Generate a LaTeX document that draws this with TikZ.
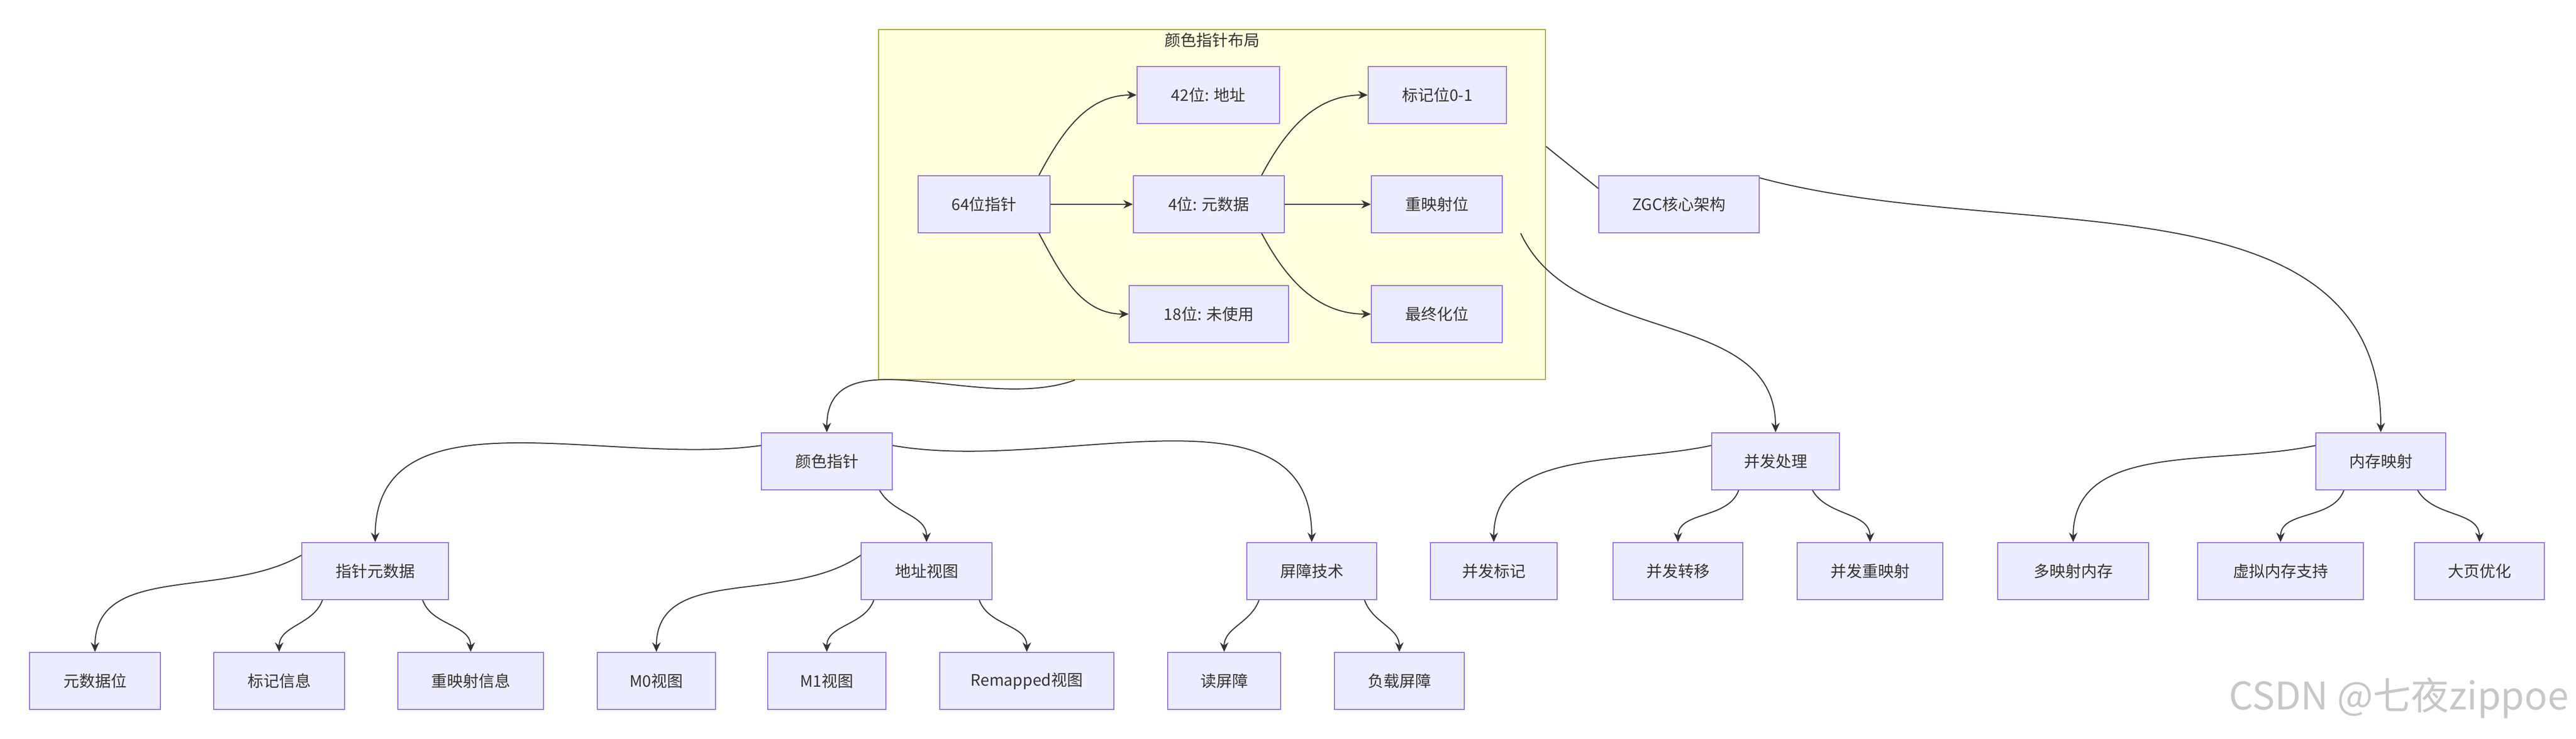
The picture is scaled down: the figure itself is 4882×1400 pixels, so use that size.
\documentclass[tikz,border=0pt]{standalone}
\usepackage{fontspec}
\setmainfont{Noto Sans CJK SC}
\usetikzlibrary{arrows.meta}
\definecolor{boxfill}{HTML}{ECECFF}
\definecolor{boxline}{HTML}{9370DB}
\definecolor{clfill}{HTML}{FFFFDE}
\definecolor{clline}{HTML}{AAAA33}
\definecolor{edge}{HTML}{333333}
\tikzset{
  box/.style={draw=boxline, fill=boxfill, line width=1pt, minimum height=54pt,
    font=\fontsize{15}{18}\selectfont, text=edge, inner sep=0pt},
  link/.style={draw=edge, line width=1pt, -{Stealth[length=9pt,width=8pt]}},
  plain/.style={draw=edge, line width=1pt}
}
\begin{document}
\begin{tikzpicture}[x=0.5pt, y=-0.5pt]
  \useasboundingbox (0,0) rectangle (4882,1400);

  % cluster
  \node [draw=clline, fill=clfill, line width=1pt, minimum width=632pt, minimum height=331.5pt, inner sep=0pt]
    (cl) at (2297,387.5) {};
  \node [font=\fontsize{15}{18}\selectfont, text=edge] (cltitle) at (2297,76) {颜色指针布局};

  \node [box, minimum width=125pt] (p64) at (1865,387) {64位指针};
  \node [box, minimum width=135pt] (b42) at (2290,180) {42位: 地址};
  \node [box, minimum width=143pt] (b4)  at (2291,387) {4位: 元数据};
  \node [box, minimum width=151pt] (b18) at (2291,595) {18位: 未使用};
  \node [box, minimum width=131pt] (mk)  at (2724,180) {标记位0-1};
  \node [box, minimum width=124pt] (rm)  at (2723,387) {重映射位};
  \node [box, minimum width=124pt] (fn)  at (2723,595) {最终化位};

  \draw [link] ([xshift=52]p64.north) to[out=62,in=180] (b42.west);
  \draw [link] (p64.east) -- (b4.west);
  \draw [link] ([xshift=52]p64.south) to[out=-62,in=180] (b18.west);
  \draw [link] ([xshift=50]b4.north) to[out=62,in=180] (mk.west);
  \draw [link] (b4.east) -- (rm.west);
  \draw [link] ([xshift=50]b4.south) to[out=-62,in=180] (fn.west);

  % top level
  \node [box, minimum width=152pt] (zgc) at (3182,387) {ZGC核心架构};
  \node [box, minimum width=124pt] (color) at (1567,874) {颜色指针};
  \node [box, minimum width=121pt] (conc) at (3365,874) {并发处理};
  \node [box, minimum width=123pt] (mem) at (4512,874) {内存映射};

  \draw [plain] ([yshift=15]zgc.west) -- ([yshift=55]cl.east);
  \draw [link] ([xshift=-130]cl.south) to[out=-160,in=90] (color.north);
  \draw [link] ([xshift=-150]zgc.south) to[out=-65,in=90] (conc.north);
  \draw [link] ([yshift=25]zgc.east) to[out=-15,in=90] (mem.north);

  % second level
  \node [box, minimum width=139pt] (meta) at (711,1082) {指针元数据};
  \node [box, minimum width=124pt] (addr) at (1756,1082) {地址视图};
  \node [box, minimum width=123pt] (barr) at (2486,1082) {屏障技术};
  \node [box, minimum width=120pt] (cmark) at (2831,1082) {并发标记};
  \node [box, minimum width=123pt] (cmove) at (3180,1082) {并发转移};
  \node [box, minimum width=138pt] (cremap) at (3544,1082) {并发重映射};
  \node [box, minimum width=143pt] (multi) at (3929,1082) {多映射内存};
  \node [box, minimum width=157pt] (virt) at (4322,1082) {虚拟内存支持};
  \node [box, minimum width=123pt] (huge) at (4699,1082) {大页优化};

  \draw [link] ([yshift=15]color.west) to[out=-172,in=90] (meta.north);
  \draw [link] ([xshift=50]color.south) to[out=-60,in=90] (addr.north);
  \draw [link] ([yshift=15]color.east) to[out=-10,in=90] (barr.north);
  \draw [link] ([yshift=15]conc.west) to[out=-168,in=90] (cmark.north);
  \draw [link] ([xshift=-35]conc.south) to[out=-110,in=90] (cmove.north);
  \draw [link] ([xshift=35]conc.south) to[out=-60,in=90] (cremap.north);
  \draw [link] ([yshift=15]mem.west) to[out=-168,in=90] (multi.north);
  \draw [link] ([xshift=-35]mem.south) to[out=-110,in=90] (virt.north);
  \draw [link] ([xshift=35]mem.south) to[out=-60,in=90] (huge.north);

  % leaves
  \node [box, minimum width=124pt] (l1) at (180,1290) {元数据位};
  \node [box, minimum width=124pt] (l2) at (529,1290) {标记信息};
  \node [box, minimum width=138pt] (l3) at (892,1290) {重映射信息};
  \node [box, minimum width=112pt] (l4) at (1244,1290) {M0视图};
  \node [box, minimum width=112pt] (l5) at (1567,1290) {M1视图};
  \node [box, minimum width=165pt] (l6) at (1946,1290) {Remapped视图};
  \node [box, minimum width=107pt] (l7) at (2320,1290) {读屏障};
  \node [box, minimum width=123pt] (l8) at (2652,1290) {负载屏障};

  \draw [link] ([yshift=15]meta.west) to[out=-150,in=90] (l1.north);
  \draw [link] ([xshift=-50]meta.south) to[out=-110,in=90] (l2.north);
  \draw [link] ([xshift=45]meta.south) to[out=-70,in=90] (l3.north);
  \draw [link] ([yshift=15]addr.west) to[out=-145,in=90] (l4.north);
  \draw [link] ([xshift=-50]addr.south) to[out=-110,in=90] (l5.north);
  \draw [link] ([xshift=50]addr.south) to[out=-70,in=90] (l6.north);
  \draw [link] ([xshift=-50]barr.south) to[out=-110,in=90] (l7.north);
  \draw [link] ([xshift=50]barr.south) to[out=-70,in=90] (l8.north);

  \node [font=\fontsize{36}{40}\selectfont, text=black!22, anchor=east] (wm) at (4875,1322) {CSDN @七夜zippoe};
\end{tikzpicture}
\end{document}
